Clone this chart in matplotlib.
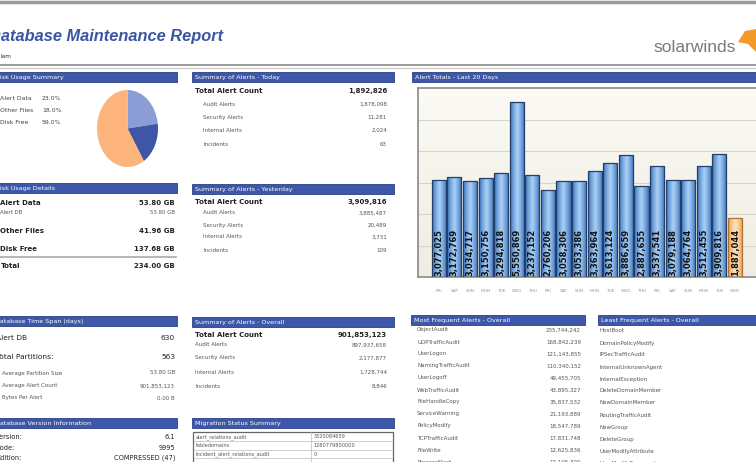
import matplotlib.pyplot as plt
import numpy as np
from matplotlib.patches import Rectangle

W, H = 756, 462

# ---- data ----
disk_labels = ['Alert Data', 'Other Files', 'Disk Free']
disk_pct = [23.0, 18.0, 59.0]

disk_detail_labels = ['Alert Data', 'Alert DB', 'Other Files', 'Disk Free', 'Total']
disk_detail_values = ['53.80 GB', '53.80 GB', '41.96 GB', '137.68 GB', '234.00 GB']

alert_types = ['Total Alert Count', 'Audit Alerts', 'Security Alerts', 'Internal Alerts', 'Incidents']
today_counts = [1892826, 1878098, 11281, 2024, 63]
yesterday_counts = [3909816, 3885487, 20489, 3731, 109]
overall_counts = [901853123, 897937658, 2177877, 1728744, 8846]

day_labels = ['FRI', 'SAT', 'SUN', 'MON', 'TUE', 'WED', 'THU', 'FRI', 'SAT', 'SUN',
              'MON', 'TUE', 'WED', 'THU', 'FRI', 'SAT', 'SUN', 'MON', 'TUE', 'WED']
day_totals = [3077025, 3172769, 3034717, 3150756, 3294818, 5550869, 3237152, 2760206,
              3058306, 3053386, 3363964, 3613124, 3886659, 2887655, 3537541, 3079188,
              3064764, 3512455, 3909816, 1887044]

timespan_labels = ['Alert DB', 'Total Partitions:', 'Average Partition Size',
                   'Average Alert Count', 'Bytes Per Alert']
timespan_values = ['630', '563', '53.80 GB', '901,853,123', '0.00 B']

version_labels = ['Version:', 'Code:', 'Edition:']
version_values = ['6.1', '9995', 'COMPRESSED (47)']

migration_tables = ['alert_relations_audit', 'tabledomains', 'incident_alert_relations_audit']
migration_values = ['3520084659', '1280779800000', '0']

most_names = ['ObjectAudit', 'UDPTrafficAudit', 'UserLogon', 'NamingTrafficAudit',
              'UserLogoff', 'WebTrafficAudit', 'FileHandleCopy', 'ServiceWarning',
              'PolicyModify', 'TCPTrafficAudit', 'FileWrite', 'ProcessStart']
most_counts = [235744242, 168842239, 121143855, 110340152, 49455705, 43895327,
               35837532, 21193889, 18547789, 17831748, 12625836, 12105300]

least_names = ['HostBoot', 'DomainPolicyModify', 'IPSecTrafficAudit', 'InternalUnknownAgent',
               'InternalException', 'DeleteDomainMember', 'NewDomainMember',
               'RoutingTrafficAudit', 'NewGroup', 'DeleteGroup', 'UserModifyAttribute',
               'UserModifyPassword']
least_counts = [1, 1, 2, 4, 2318, 3104, 4127, 4456, 5208, 5731, 8962, 9540]

HEAD = '#3d58a9'
TXT = '#444444'

fig = plt.figure(figsize=(W / 100, H / 100), dpi=100)
bg = fig.add_axes([0, 0, 1, 1])
bg.set_xlim(0, W)
bg.set_ylim(H, 0)
bg.axis('off')


def px_axes(x0, y0, x1, y1):
    return fig.add_axes([x0 / W, 1 - y1 / H, (x1 - x0) / W, (y1 - y0) / H])


def header(x0, x1, y, text, tx=None):
    bg.add_patch(Rectangle((x0, y), x1 - x0, 10, fc=HEAD, ec='#2b3f86', lw=0.6))
    bg.text(x0 + 3 if tx is None else tx, y + 5.2, text, color='white',
            fontsize=4.6, va='center', ha='left')


def row(xl, xr, y, label, value, size=4.4, bold=False, color=TXT):
    w = 'bold' if bold else 'normal'
    bg.text(xl, y, label, fontsize=size, fontweight=w, color=color, va='center')
    bg.text(xr, y, value, fontsize=size, fontweight=w, color=color, va='center', ha='right')


# ---- page header ----
bg.plot([0, W], [1.5, 1.5], color='#9a9a9a', lw=2.5)
bg.plot([0, W], [65, 65], color='#8a8a8a', lw=1.2)
bg.plot([0, W], [67.5, 67.5], color='#c8c8c8', lw=0.8)
bg.text(-11, 37, 'Database Maintenance Report', fontsize=11.8, fontstyle='italic',
        fontweight='bold', color='#3a55a5', family='Liberation Sans', va='center')
bg.text(0.5, 57, 'lam', fontsize=4.2, color='#333333', va='center')
bg.text(695, 48, 'solarwinds', fontsize=12.5, color='#7a7a7a', va='center', ha='center',
        family='Liberation Sans')
bg.add_patch(plt.Polygon([[738, 42], [745, 31], [756, 29], [756, 52], [748, 44]],
                         fc='#f39a2b', ec='none'))

# ---- disk usage summary ----
header(-10, 177, 72, 'Disk Usage Summary', tx=-5)
for i, (lab, p) in enumerate(zip(disk_labels, disk_pct)):
    row(0.5, 42, 98 + i * 12, lab, '', size=4.4)
    bg.text(42, 98 + i * 12, f'{p:.1f}%', fontsize=4.4, color=TXT, va='center')

pax = px_axes(97, 90, 158, 167)
pax.pie(disk_pct, colors=['#8c9cd4', '#3f56a6', '#fdb47c'], startangle=90,
        counterclock=False, radius=1, wedgeprops=dict(linewidth=0))
pax.set_aspect('auto')
pax.set_xlim(-1, 1)
pax.set_ylim(-1, 1)
pax.axis('off')

# ---- disk usage details ----
header(-10, 177, 183, 'Disk Usage Details', tx=-5)
detail_y = [203, 213, 231, 249, 266]
for lab, val, y in zip(disk_detail_labels, disk_detail_values, detail_y):
    small = lab == 'Alert DB'
    row(0.5, 175, y, lab, val, size=3.9 if small else 5.0,
        bold=not small, color='#555555' if small else '#222222')
bg.plot([0, 176], [257, 257], color='#aaaaaa', lw=1.2)

# ---- summaries of alerts ----
def alert_block(y_head, ys, counts, title, indent):
    header(192, 394, y_head, title)
    for k, (lab, c, y) in enumerate(zip(alert_types, counts, ys)):
        if k == 0:
            row(195, 387, y, lab, f'{c:,}', size=5.0, bold=True, color='#222222')
        else:
            row(195 + indent, 387, y, lab, f'{c:,}', size=4.0, color='#555555')


alert_block(72, [91, 104, 117, 130, 144], today_counts, 'Summary of Alerts - Today', 8)
alert_block(184, [202, 213, 225, 237, 250], yesterday_counts, 'Summary of Alerts - Yesterday', 8)
alert_block(317, [335, 345, 358, 372, 386], overall_counts, 'Summary of Alerts - Overall', 0)

# ---- migration status ----
header(192, 394, 418, 'Migration Status Summary')
bg.add_patch(Rectangle((193, 432), 200, 40, fc='white', ec='#666666', lw=0.9))
for k, (t, v) in enumerate(zip(migration_tables, migration_values)):
    y = 437 + k * 8.5
    bg.text(196, y, t, fontsize=3.6, color='#555555', va='center')
    bg.text(314, y, v, fontsize=3.6, color='#555555', va='center')
    bg.plot([194, 392], [y + 4.2, y + 4.2], color='#bbbbbb', lw=0.5)
bg.plot([311, 311], [432, 462], color='#bbbbbb', lw=0.5)

# ---- database time span ----
header(-10, 177, 316, 'Database Time Span (days)', tx=-5)
ts_y = [338, 357, 373, 386, 398]
for k, (lab, val, y) in enumerate(zip(timespan_labels, timespan_values, ts_y)):
    if k < 2:
        row(-4, 175, y, lab, val, size=5.4, color='#222222')
    else:
        row(2, 175, y, lab, val, size=4.0, color='#555555')

# ---- version info ----
header(-10, 177, 418, 'Database Version Information', tx=-5)
for k, (lab, val) in enumerate(zip(version_labels, version_values)):
    row(-4, 175, 437 + k * 10.5, lab, val, size=4.8, color='#222222')

# ---- most / least frequent ----
header(411, 585, 315, 'Most Frequent Alerts - Overall')
for k, (n, c) in enumerate(zip(most_names, most_counts)):
    row(417, 581, 330 + k * 12, n, f'{c:,}', size=4.0, color='#555555')

header(598, 770, 315, 'Least Frequent Alerts - Overall')
for k, (n, c) in enumerate(zip(least_names, least_counts)):
    row(600, 772, 331 + k * 12, n, f'{c:,}', size=4.0, color='#555555')

# ---- alert totals chart ----
header(412, 770, 72, 'Alert Totals - Last 20 Days')
ax = px_axes(418, 88, 758, 277)
xs = np.arange(len(day_totals))
xl = (-1.33, 20.47)
ymax = 6e6
grad_bg = np.linspace(0, 1, 50).reshape(-1, 1)
ax.imshow(grad_bg, extent=(xl[0], xl[1], 0, ymax), origin='lower', aspect='auto',
          cmap=plt.matplotlib.colors.LinearSegmentedColormap.from_list(
              'bgc', ['#efede2', '#fbfaf5']), zorder=0)
for gy in range(1, 6):
    ax.axhline(gy * 1e6, color='#d6d4cc', lw=0.8, zorder=1)

blue_cm = plt.matplotlib.colors.LinearSegmentedColormap.from_list(
    'bb', ['#3f74b8', '#76a8e0', '#acd0f3', '#76a8e0', '#3f74b8'])
orange_cm = plt.matplotlib.colors.LinearSegmentedColormap.from_list(
    'oo', ['#e99a4f', '#f8c892', '#fde3c2', '#f8c892', '#e99a4f'])
bw = 0.9
gx = np.linspace(0, 1, 40).reshape(1, -1)
for i, v in enumerate(day_totals):
    last = i == len(day_totals) - 1
    cm = orange_cm if last else blue_cm
    ec = '#b0732e' if last else '#233f68'
    im = ax.imshow(gx, extent=(i - bw / 2, i + bw / 2, 0, v), aspect='auto',
                   cmap=cm, zorder=2)
    r = Rectangle((i - bw / 2, 0), bw, v, fc='none', ec=ec, lw=0.9, zorder=3)
    ax.add_patch(r)
    im.set_clip_path(r)
    ax.text(i, 0.03e6, f'{v:,}', rotation=90, ha='center', va='bottom',
            fontsize=6.0, fontweight='bold', color='#111111', zorder=4)

ax.set_xlim(*xl)
ax.set_ylim(0, ymax)
ax.set_xticks(xs)
ax.set_xticklabels(day_labels, fontsize=3.2, color='#999999')
ax.tick_params(axis='x', length=0, pad=9)
ax.set_yticks([])
for s in ax.spines.values():
    s.set_color('#8a8a8a')
    s.set_linewidth(1.2)

fig.savefig('out.png', dpi=100)
